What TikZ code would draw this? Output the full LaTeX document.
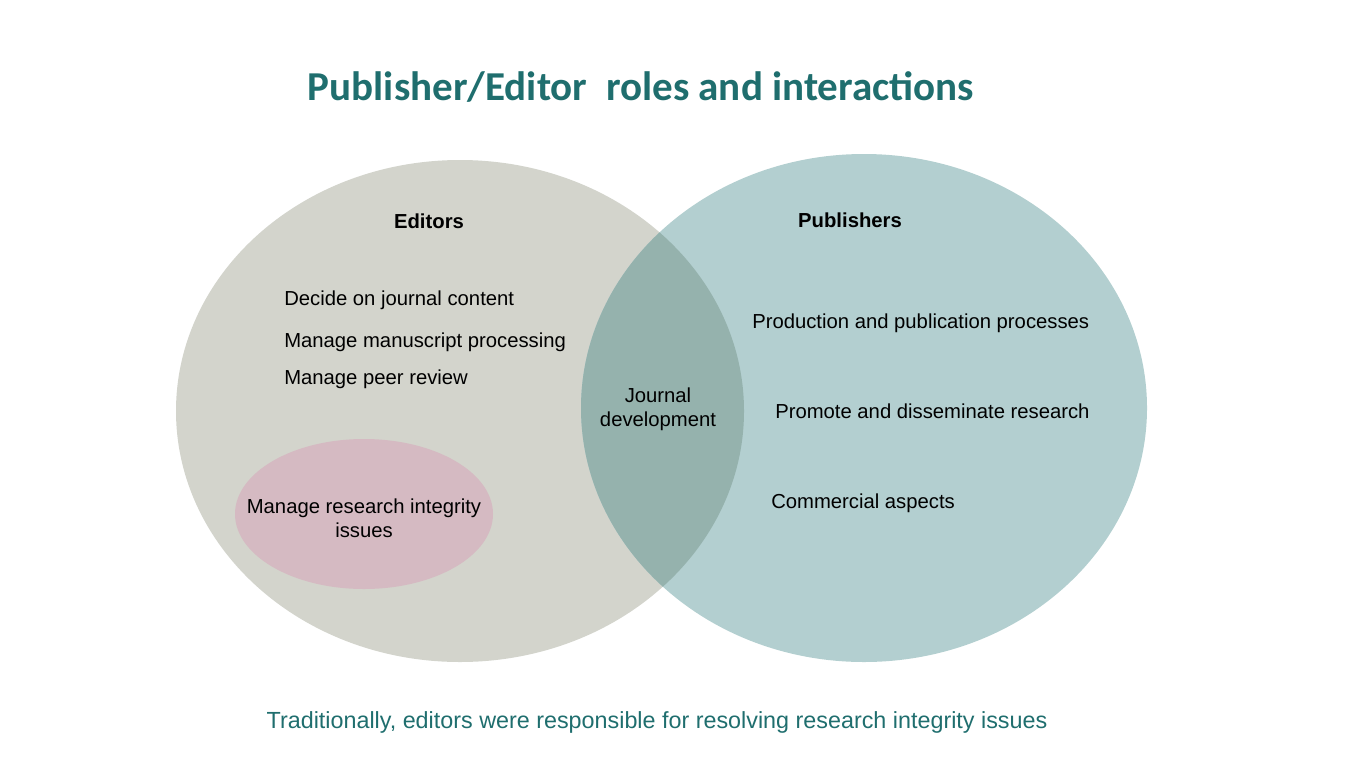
\documentclass[tikz,border=0pt]{standalone}
\usepackage{fontspec}
\setmainfont{Liberation Sans}
\newfontfamily\titlefont{Carlito}
\definecolor{edc}{HTML}{D3D4CC}
\definecolor{pubc}{HTML}{B3CFD0}
\definecolor{ovc}{HTML}{95B2AD}
\definecolor{pinkc}{HTML}{D5BAC2}
\definecolor{teal}{HTML}{1F6E6E}
\begin{document}
\begin{tikzpicture}[x=0.75pt,y=-0.75pt,
  lbl/.style={font=\fontsize{15.2}{18}\selectfont,text=black,inner sep=0pt},
  hd/.style={lbl,font=\fontsize{15.2}{18}\selectfont\bfseries}]
\useasboundingbox (0,0) rectangle (1355,778);
\fill[edc] (460,411) ellipse [x radius=284,y radius=251];
\fill[pubc] (864,408) ellipse [x radius=283,y radius=254];
\begin{scope}
\clip (460,411) ellipse [x radius=284,y radius=251];
\fill[ovc] (864,408) ellipse [x radius=283,y radius=254];
\end{scope}
\fill[pinkc] (364,514) ellipse [x radius=129,y radius=75];
\node[font=\titlefont\fontsize{30.8}{36}\selectfont\bfseries,text=teal] (title) at (641,87) {Publisher/Editor\ \ roles and interactions};
\node[hd] (ed) at (429,221) {Editors};
\node[hd] (pub) at (850,220) {Publishers};
\node[lbl,anchor=west] (a1) at (284,300) {Decide on journal content};
\node[lbl,anchor=west] (a2) at (284,342) {Manage manuscript processing};
\node[lbl,anchor=west] (a3) at (284,379) {Manage peer review};
\node[lbl,align=center] (pk) at (364,518) {Manage research integrity\\issues};
\node[lbl,align=center] (jd) at (658,409) {Journal\\development};
\node[lbl,anchor=west] (b1) at (752,323) {Production and publication processes};
\node[lbl,anchor=west] (b2) at (775,411) {Promote and disseminate research};
\node[lbl,anchor=west] (b3) at (771,503) {Commercial aspects};
\node[lbl,text=teal,font=\fontsize{17.5}{20}\selectfont] (foot) at (657,722) {Traditionally, editors were responsible for resolving research integrity issues};
\end{tikzpicture}
\end{document}
